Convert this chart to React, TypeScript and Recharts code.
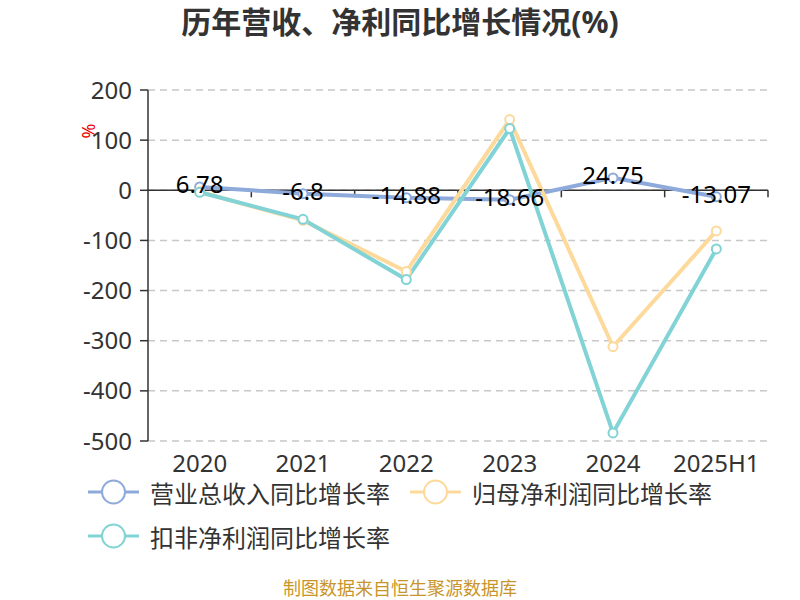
import { LineChart, Line, XAxis, YAxis, CartesianGrid, ReferenceLine, LabelList } from "recharts";

const years = ["2020", "2021", "2022", "2023", "2024", "2025H1"];
const revenueGrowth = [6.78, -6.8, -14.88, -18.66, 24.75, -13.07];
const parentProfitGrowth = [-3, -60, -162, 141, -312, -81];
const deductedProfitGrowth = [-4, -58, -178, 123, -484, -117];
const yTicks = [-500, -400, -300, -200, -100, 0, 100, 200];

const series = [
  { key: "revenue", name: "营业总收入同比增长率", color: "#8eaadb", left: 88, top: 470 },
  { key: "parent", name: "归母净利润同比增长率", color: "#fdd99b", left: 410, top: 470 },
  { key: "deducted", name: "扣非净利润同比增长率", color: "#81d3d5", left: 88, top: 514 },
];

const data = years.map((year, i) => ({
  year,
  revenue: revenueGrowth[i],
  parent: parentProfitGrowth[i],
  deducted: deductedProfitGrowth[i],
}));

const FONT = '"Noto Sans", "Noto Sans CJK SC", sans-serif';
const PLOT_W = 620;
const HALF_BAND = PLOT_W / years.length / 2;

// zero line doubles as the x axis, with ticks between categories
const ZeroAxis = (props: any) => {
  const { x1, x2, y1 } = props;
  const step = (x2 - x1) / years.length;
  return (
    <g>
      <line x1={x1} x2={x2} y1={y1} y2={y1} stroke="#333" strokeWidth={1.5} />
      {years.map((y, i) => (
        <line key={y} x1={x1 + step * (i + 1)} x2={x1 + step * (i + 1)} y1={y1} y2={y1 + 7} stroke="#333" strokeWidth={1.5} />
      ))}
    </g>
  );
};

const ValueLabel = (props: any) => {
  const { x, y, value } = props;
  return (
    <text x={x} y={y + 6} textAnchor="middle" fontSize={24} fill="#000" fontFamily={FONT}>
      {value}
    </text>
  );
};

const LegendItems = () => (
  <>
    {series.map((s) => (
      <div
        key={s.key}
        style={{
          position: "absolute", left: s.left, top: s.top, height: 44,
          display: "flex", alignItems: "center", fontFamily: FONT,
        }}
      >
        <svg width={51} height={28}>
          <line x1={0} x2={51} y1={14} y2={14} stroke={s.color} strokeWidth={3} />
          <circle cx={25.5} cy={14} r={11.5} fill="#fff" stroke={s.color} strokeWidth={2} />
        </svg>
        <span style={{ marginLeft: 11, fontSize: 24, color: "#333", whiteSpace: "nowrap" }}>{s.name}</span>
      </div>
    ))}
  </>
);

export default function App() {
  return (
    <div style={{ position: "absolute", left: 0, top: 0, width: 800, height: 600, background: "#fff" }}>
      <div
        style={{
          position: "absolute", left: 0, top: 6, width: 800, textAlign: "center",
          fontSize: 30, lineHeight: "32px", fontWeight: "bold", color: "#333", fontFamily: FONT,
        }}
      >
        历年营收、净利同比增长情况(%)
      </div>
      <LineChart width={800} height={600} data={data} margin={{ top: 90, right: 32, bottom: 129, left: 0 }}>
        <CartesianGrid vertical={false} stroke="#c8c8c8" strokeWidth={1.5} strokeDasharray="7 5" />
        <XAxis
          dataKey="year"
          height={30}
          padding={{ left: HALF_BAND, right: HALF_BAND }}
          axisLine={false}
          tickLine={false}
          tickSize={6}
          tickMargin={8}
          tick={{ fontSize: 24, fill: "#333", fontFamily: FONT }}
        />
        <YAxis
          width={148}
          domain={[-500, 200]}
          ticks={yTicks}
          interval={0}
          axisLine={{ stroke: "#333", strokeWidth: 1.5 }}
          tickLine={{ stroke: "#333", strokeWidth: 1.5 }}
          tickSize={8}
          tickMargin={8}
          tick={{ fontSize: 24, fill: "#333", fontFamily: FONT }}
          label={{
            content: () => (
              <text x={88} y={131} fill="#e00" fontSize={18} textAnchor="middle" transform="rotate(-90 88 131)" dominantBaseline="central" fontFamily={FONT}>
                %
              </text>
            ),
          }}
        />
        <ReferenceLine y={0} shape={ZeroAxis} />
        {series.map((s) => (
          <Line
            key={s.key}
            dataKey={s.key}
            name={s.name}
            type="linear"
            stroke={s.color}
            strokeWidth={4}
            dot={{ r: 4.5, fill: "#fff", stroke: s.color, strokeWidth: 2 }}
            isAnimationActive={false}
          />
        ))}
        <Line dataKey="revenue" stroke="none" dot={false} legendType="none" isAnimationActive={false}>
          <LabelList dataKey="revenue" content={ValueLabel} />
        </Line>
      </LineChart>
      <LegendItems />
      <div
        style={{
          position: "absolute", left: 0, top: 578, width: 800, textAlign: "center",
          fontSize: 18, lineHeight: "20px", color: "#c8952a", fontFamily: FONT,
        }}
      >
        制图数据来自恒生聚源数据库
      </div>
    </div>
  );
}
